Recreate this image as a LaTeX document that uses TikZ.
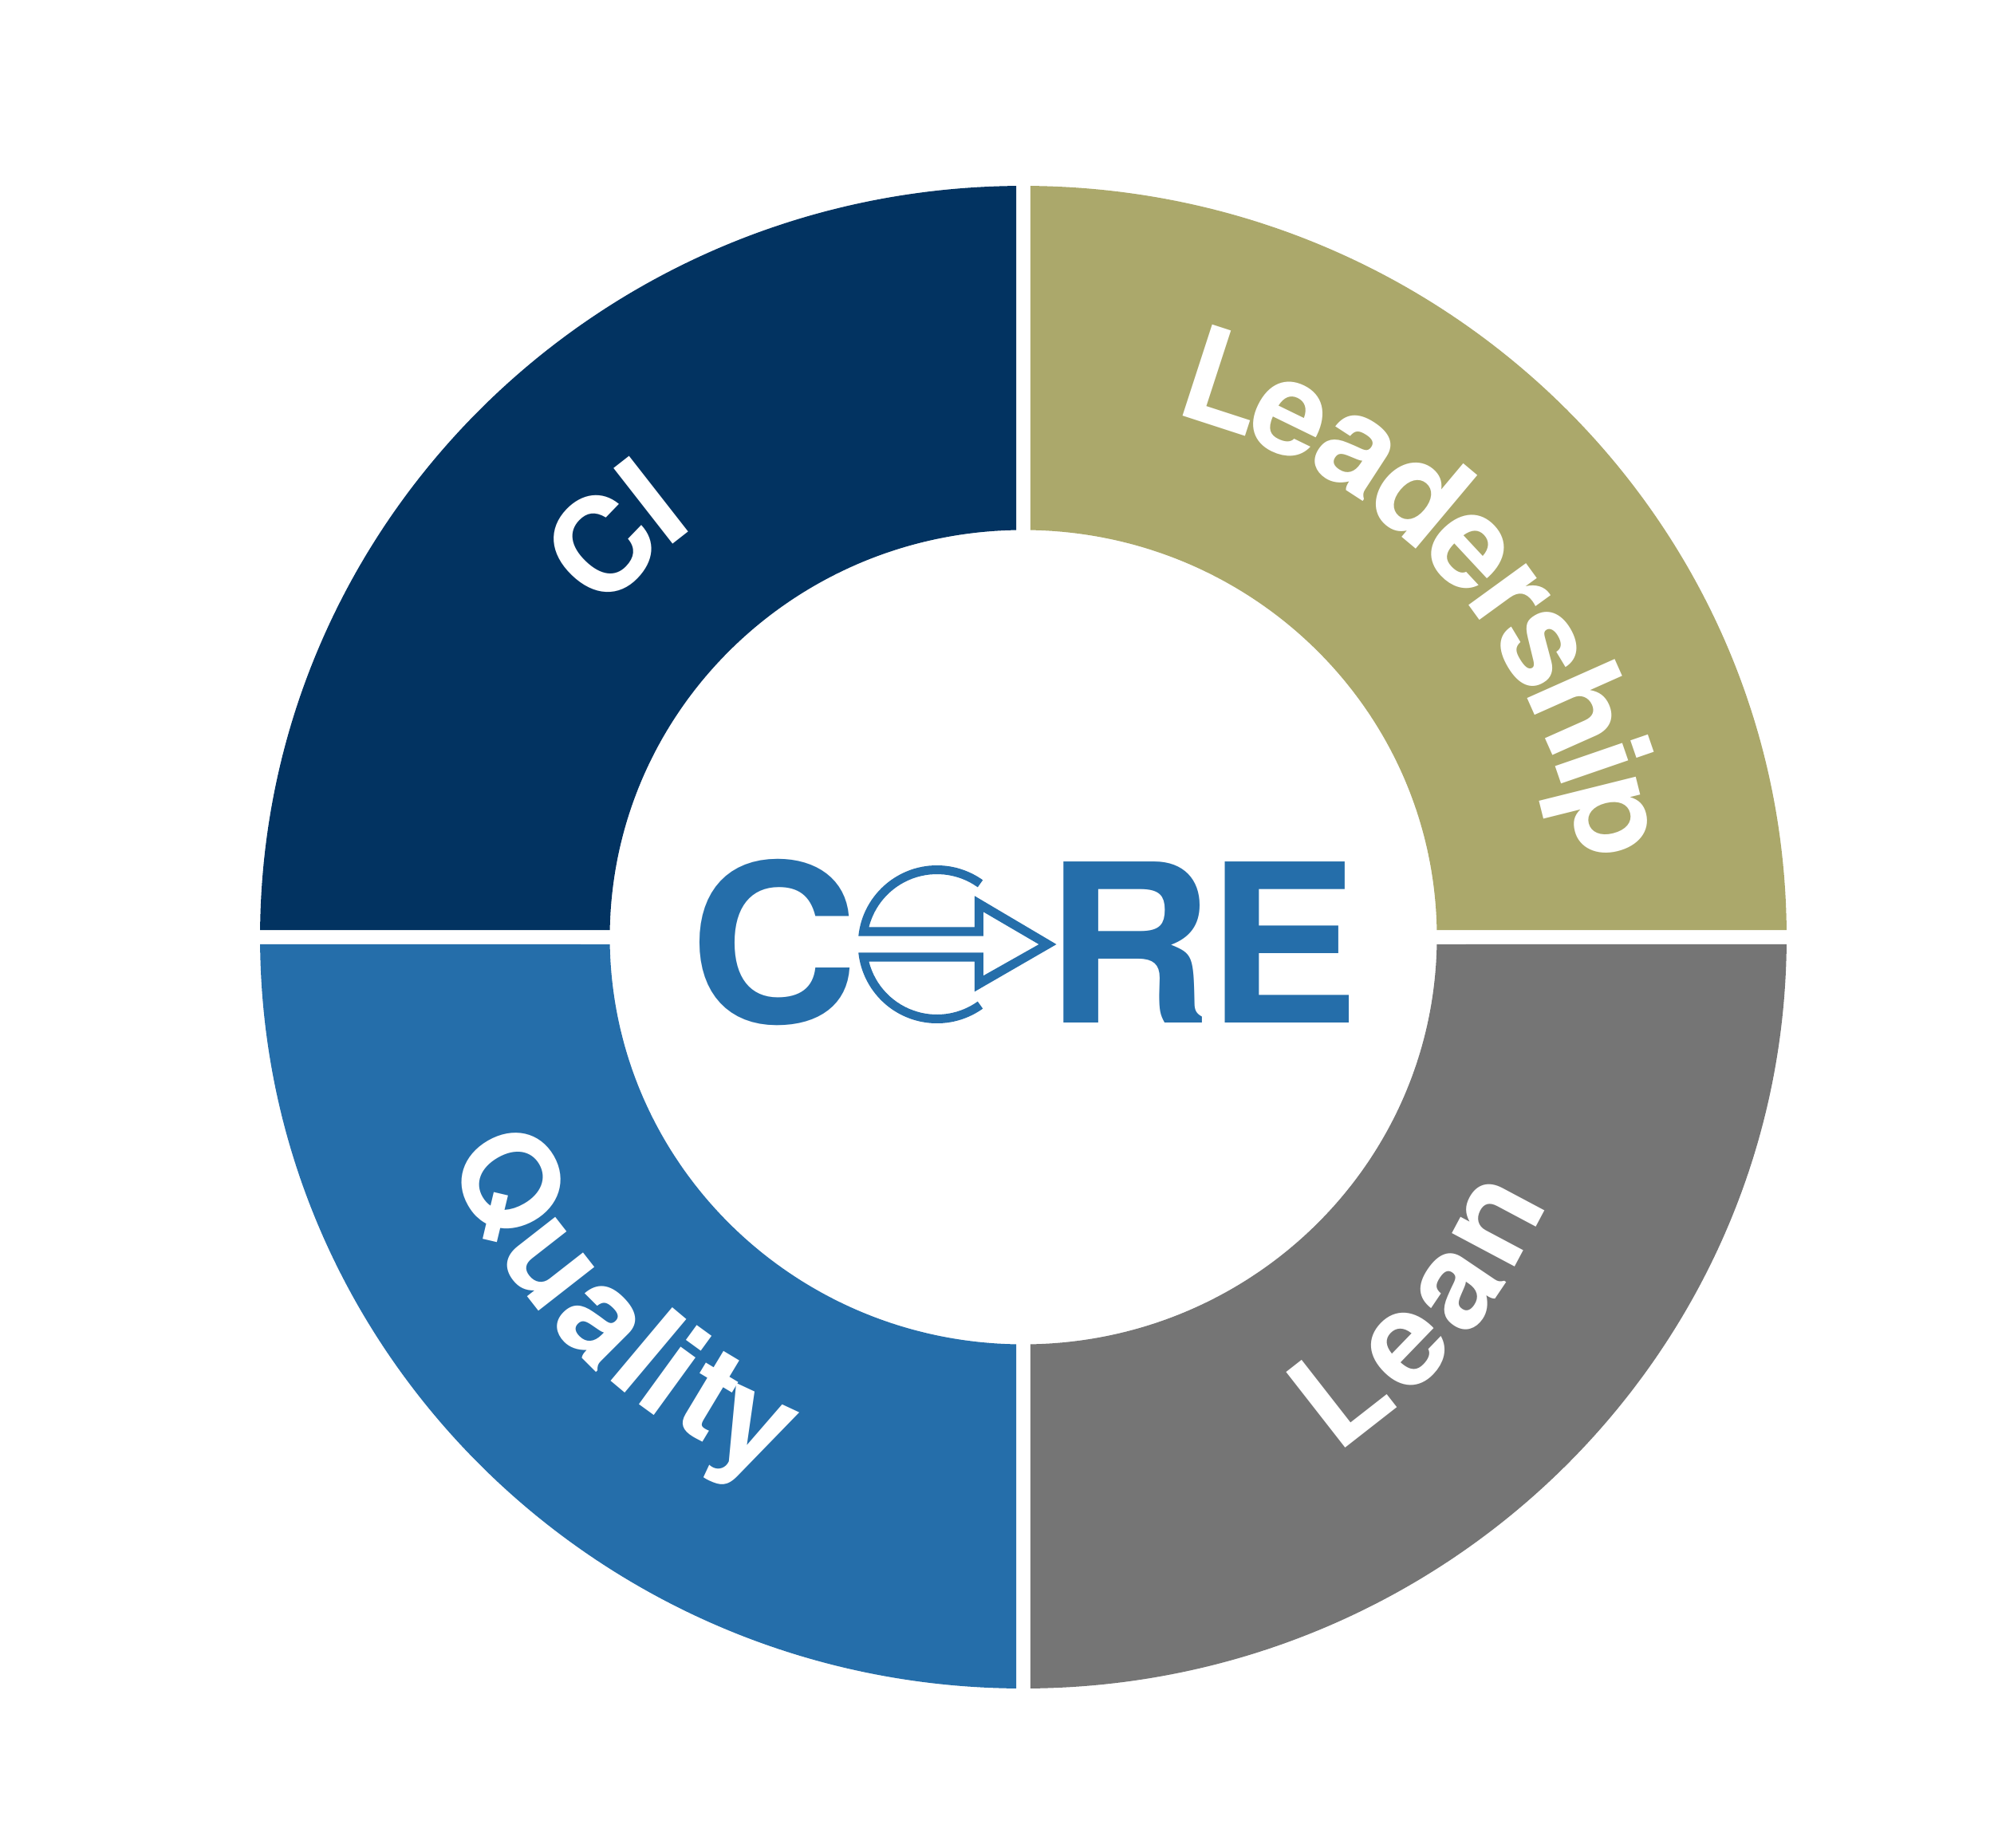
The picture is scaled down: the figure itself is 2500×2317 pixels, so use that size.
\documentclass[tikz,border=0pt]{standalone}
\usepackage{fontspec}
\usepackage{graphicx}
\setmainfont{TeX Gyre Heros}[BoldFont=* Bold]
\definecolor{navyq}{HTML}{023361}
\definecolor{oliveq}{HTML}{ABA86B}
\definecolor{grayq}{HTML}{757575}
\definecolor{blueq}{HTML}{256EAA}
\newcommand{\quadrant}[5]{%
  \fill[#1] ([shift={(rc)}]#2:957pt and 942pt)
    arc[start angle=#2,end angle=#3,x radius=957pt,y radius=942pt]
    -- ([shift={(rc)}]#4:518.5pt and 510.5pt)
    arc[start angle=#4,end angle=#5,x radius=518.5pt,y radius=510.5pt] -- cycle;}
\tikzset{
  glyph/.style={inner sep=0pt,outer sep=0pt,text=white,font=\fontsize{165}{165}\selectfont\bfseries},
  coreglyph/.style={inner sep=0pt,outer sep=0pt,text=blueq,font=\fontsize{277}{277}\selectfont\bfseries}
}
\begin{document}
\begin{tikzpicture}[x=1pt,y=1pt]
\useasboundingbox (0,0) rectangle (2500,-2317);
\fill[white] (0,0) rectangle (2500,-2317);
\coordinate (rc) at (1283,-1175);
\quadrant{navyq}{90.53}{179.453}{178.99}{90.978}
\quadrant{oliveq}{0.547}{89.47}{89.022}{1.01}
\quadrant{blueq}{180.547}{269.47}{269.022}{181.01}
\quadrant{grayq}{270.53}{359.453}{358.99}{270.978}
% CI
\node[glyph,rotate=46] (ci1) at (754,-684) {C};
\node[glyph,rotate=38] (ci2) at (816.3,-626.7) {I};
% Leadership
\node[glyph,rotate=-18] (le1) at (1537,-476) {L};
\node[glyph,rotate=-26] (le2) at (1616,-525.5) {e};
\node[glyph,rotate=-33] (le3) at (1699,-569.5) {a};
\node[glyph,rotate=-40] (le4) at (1783,-617) {d};
\node[glyph,rotate=-47] (le5) at (1841,-692) {e};
\node[glyph,rotate=-54] (le6) at (1891,-750) {r};
\node[glyph,rotate=-59] (le7) at (1930.5,-813) {s};
\node[glyph,rotate=-66] (le8) at (1986,-887) {h};
\node[glyph,rotate=-71] (le9) at (2012,-952) {i};
\node[glyph,rotate=-76] (le10) at (2001,-1029) {p};
% Quality
\node[glyph,rotate=-60] (qu1) at (638,-1481) {Q};
\node[glyph,rotate=-52] (qu2) at (686,-1586) {u};
\node[glyph,rotate=-45] (qu3) at (750,-1660) {a};
\node[glyph,rotate=-40] (qu4) at (813.7,-1693) {l};
\node[glyph,rotate=-36] (qu5) at (847,-1718.7) {i};
\node[glyph,rotate=-31] (qu6) at (891,-1749) {t};
\node[glyph,rotate=-25] (qu7) at (937,-1810) {y};
% Lean
\node[glyph,rotate=38] (ln1) at (1679.5,-1745) {L};
\node[glyph,rotate=46] (ln2) at (1765,-1691) {e};
\node[glyph,rotate=56] (ln3) at (1829,-1617) {a};
\node[glyph,rotate=62] (ln4) at (1877.7,-1531.3) {n};
% CORE
\node[coreglyph] (coreC) at (970,-1182) {\scalebox{1.06}[1]{C}};
\node[coreglyph] (coreR) at (1415.5,-1182) {\scalebox{1.05}[1]{R}};
\node[coreglyph] (coreE) at (1609,-1182) {\scalebox{1.03}[1]{E}};
\coordinate (oc) at (1174.7,-1184);
\fill[blueq] ([shift={(oc)}]174:99pt) arc[start angle=174,end angle=54.5,radius=99pt]
  -- ([shift={(oc)}]54.5:88pt) arc[start angle=54.5,end angle=165.8,radius=88pt]
  -- (1221.9,-1162.41) -- (1221.9,-1123.3) -- (1324.5,-1184) -- (1221.9,-1243.3)
  -- (1221.9,-1205.57) -- ([shift={(oc)}]194.2:88pt)
  arc[start angle=194.2,end angle=305.5,radius=88pt]
  -- ([shift={(oc)}]305.5:99pt) arc[start angle=305.5,end angle=186,radius=99pt]
  -- (1232.9,-1194.35) -- (1232.9,-1223.3) -- (1302.5,-1184) -- (1232.9,-1143.3)
  -- (1232.9,-1173.65) -- cycle;
\end{tikzpicture}
\end{document}
